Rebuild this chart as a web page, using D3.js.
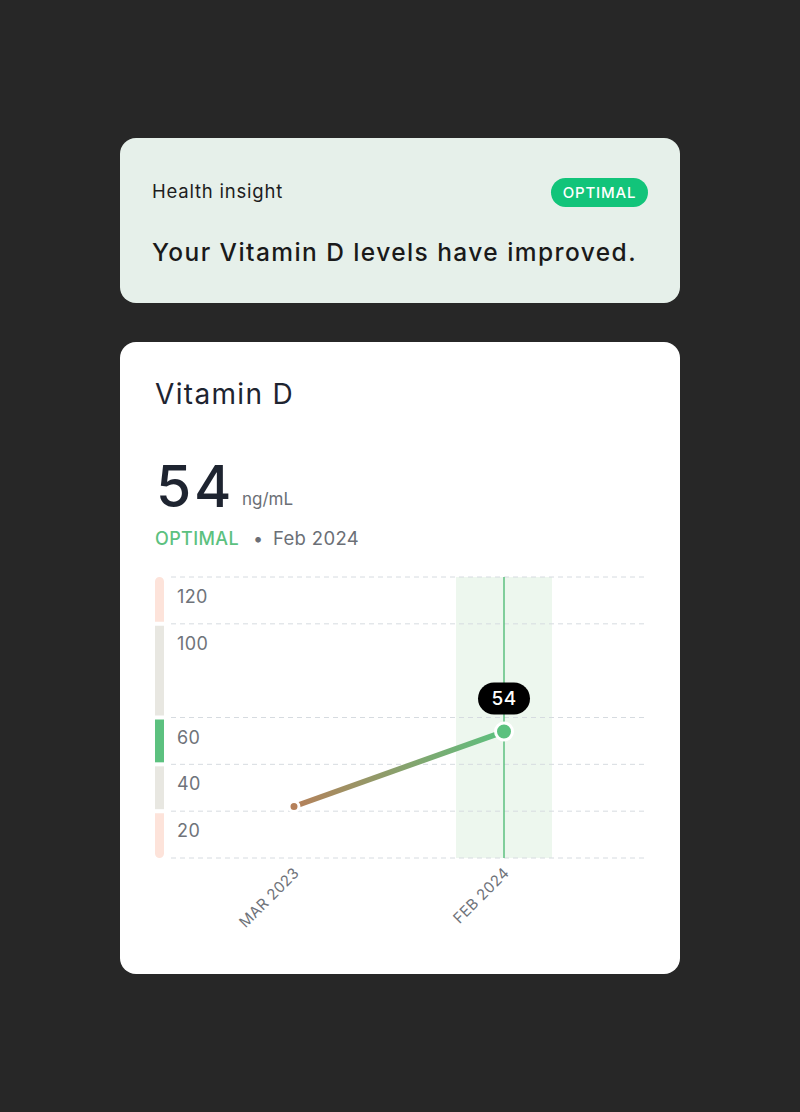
<!DOCTYPE html>
<html>
<head>
<meta charset="utf-8">
<script src="https://cdn.jsdelivr.net/npm/d3@7"></script>
<style>
  body { margin: 0; background: #272727; }
  svg { display: block; }
  text { font-family: "Inter", "Noto Sans", sans-serif; }
</style>
</head>
<body>
<svg width="800" height="1112"></svg>
<script>
// data
const dates = ["MAR 2023", "FEB 2024"];
const values = [22, 54];
const yTicks = [20, 40, 60, 100, 120];
const gridValues = [0, 20, 40, 60, 100, 120];
const bandStarts = [0, 20, 40, 60, 100];
const bandEnds = [20, 40, 60, 100, 120];
const bandKinds = ["low", "mid", "optimal", "mid", "high"];

const bandColor = { low: "#fde3da", mid: "#e8e7e1", optimal: "#5cc17f", high: "#fde3da" };

const svg = d3.select("svg");

// stretch a text to a given width with letter spacing (the original font is wider)
function fit(sel, w) {
    const n = sel.text().length;
    const natural = sel.node().getComputedTextLength();
    sel.attr("letter-spacing", Math.max(0, (w - natural) / n));
    return sel;
}

// top card
const card1 = svg.append("g");
card1.append("rect")
    .attr("x", 120).attr("y", 138)
    .attr("width", 560).attr("height", 165)
    .attr("rx", 16)
    .attr("fill", "#e6f0ea");
fit(card1.append("text")
    .attr("x", 152).attr("y", 198)
    .attr("font-size", 18.5)
    .attr("fill", "#1d1d1d")
    .text("Health insight"), 131);
card1.append("rect")
    .attr("x", 551).attr("y", 178)
    .attr("width", 97).attr("height", 29)
    .attr("rx", 14.5)
    .attr("fill", "#12c47a");
card1.append("text")
    .attr("x", 599.5).attr("y", 198)
    .attr("text-anchor", "middle")
    .attr("font-size", 15)
    .attr("font-weight", 500)
    .attr("letter-spacing", 0.8)
    .attr("fill", "#fff")
    .text("OPTIMAL");
fit(card1.append("text")
    .attr("x", 152).attr("y", 261)
    .attr("font-size", 24.5)
    .attr("font-weight", 500)
    .attr("fill", "#1a1a1a")
    .text("Your Vitamin D levels have improved."), 485);

// chart card
const card2 = svg.append("g");
card2.append("rect")
    .attr("x", 120).attr("y", 342)
    .attr("width", 560).attr("height", 632)
    .attr("rx", 16)
    .attr("fill", "#fff");
fit(card2.append("text")
    .attr("x", 155).attr("y", 404)
    .attr("font-size", 28)
    .attr("fill", "#1e2430")
    .text("Vitamin D"), 139);
fit(card2.append("text")
    .attr("x", 156).attr("y", 507)
    .attr("font-size", 57)
    .attr("font-weight", 500)
    .attr("fill", "#1e2430")
    .text(values[values.length - 1]), 78);
card2.append("text")
    .attr("x", 242).attr("y", 505)
    .attr("font-size", 17)
    .attr("fill", "#6b6f76")
    .text("ng/mL");
fit(card2.append("text")
    .attr("x", 155).attr("y", 545)
    .attr("font-size", 18)
    .attr("font-weight", 500)
    .attr("fill", "#5cc17f")
    .text("OPTIMAL"), 84);
card2.append("text")
    .attr("x", 253).attr("y", 545)
    .attr("font-size", 18)
    .attr("fill", "#6b6f76")
    .text("•");
fit(card2.append("text")
    .attr("x", 273).attr("y", 545)
    .attr("font-size", 18.5)
    .attr("fill", "#6b6f76")
    .text("Feb 2024"), 86);

// scales
const y = d3.scaleLinear().domain([0, 120]).range([858, 577]);
const x = d3.scalePoint().domain(dates).range([294, 504]);

const chart = svg.append("g");

// highlight column for latest reading
const last = dates[dates.length - 1];
chart.append("rect")
    .attr("x", x(last) - 48).attr("y", y(120))
    .attr("width", 96).attr("height", y(0) - y(120))
    .attr("fill", "#edf7ee");

// grid
chart.selectAll("line.grid")
    .data(gridValues)
    .join("line")
    .attr("class", "grid")
    .attr("x1", 171).attr("x2", 645)
    .attr("y1", d => y(d)).attr("y2", d => y(d))
    .attr("stroke", "#d6dbe0")
    .attr("stroke-width", 1)
    .attr("stroke-dasharray", "5,4");

// range bars on the left
const bands = bandStarts.map((s, i) => ({ s, e: bandEnds[i], kind: bandKinds[i] }));
chart.selectAll("path.band")
    .data(bands)
    .join("path")
    .attr("class", "band")
    .attr("fill", d => bandColor[d.kind])
    .attr("d", d => {
        const x0 = 155, w = 9, r = 4.5;
        const top = y(d.e) + (d.e === 120 ? 0 : 2);
        const bot = y(d.s) - (d.s === 0 ? 0 : 2);
        const rt = d.e === 120 ? r : 0, rb = d.s === 0 ? r : 0;
        const p = d3.path();
        p.moveTo(x0, top + rt);
        if (rt) p.arcTo(x0, top, x0 + rt, top, rt); else p.lineTo(x0, top);
        if (rt) p.arcTo(x0 + w, top, x0 + w, top + rt, rt); else p.lineTo(x0 + w, top);
        if (rb) p.arcTo(x0 + w, bot, x0 + w - rb, bot, rb); else p.lineTo(x0 + w, bot);
        if (rb) p.arcTo(x0, bot, x0, bot - rb, rb); else p.lineTo(x0, bot);
        p.closePath();
        return p.toString();
    });

// y labels
chart.selectAll("text.ytick")
    .data(yTicks)
    .join("text")
    .attr("class", "ytick")
    .attr("x", 177)
    .attr("y", d => y(d) + 26)
    .attr("font-size", 18)
    .attr("letter-spacing", 0.4)
    .attr("fill", "#6f737a")
    .text(d => d);

// vertical marker
chart.append("line")
    .attr("x1", x(last)).attr("x2", x(last))
    .attr("y1", y(120)).attr("y2", y(0))
    .attr("stroke", "#5cc17f")
    .attr("stroke-width", 1.5);

// line with gradient
const pts = dates.map((d, i) => ({ date: d, value: values[i] }));
const grad = svg.append("defs").append("linearGradient")
    .attr("id", "lineGrad")
    .attr("gradientUnits", "userSpaceOnUse")
    .attr("x1", x(dates[0])).attr("x2", x(last))
    .attr("y1", 0).attr("y2", 0);
grad.append("stop").attr("offset", "0%").attr("stop-color", "#b5805a");
grad.append("stop").attr("offset", "100%").attr("stop-color", "#5cc17f");

chart.append("path")
    .datum(pts)
    .attr("fill", "none")
    .attr("stroke", "url(#lineGrad)")
    .attr("stroke-width", 5.5)
    .attr("d", d3.line().x(d => x(d.date)).y(d => y(d.value)));

chart.selectAll("circle.pt")
    .data(pts)
    .join("circle")
    .attr("class", "pt")
    .attr("cx", d => x(d.date))
    .attr("cy", d => y(d.value))
    .attr("r", (d, i) => i === pts.length - 1 ? 8.5 : 5)
    .attr("fill", (d, i) => i === pts.length - 1 ? "#5cc17f" : "#b5805a")
    .attr("stroke", "#fff")
    .attr("stroke-width", 3);

// tooltip
const lp = pts[pts.length - 1];
chart.append("rect")
    .attr("x", x(lp.date) - 26).attr("y", y(lp.value) - 49)
    .attr("width", 52).attr("height", 32)
    .attr("rx", 16)
    .attr("fill", "#000");
chart.append("text")
    .attr("x", x(lp.date)).attr("y", y(lp.value) - 26.5)
    .attr("text-anchor", "middle")
    .attr("font-size", 19)
    .attr("font-weight", 500)
    .attr("letter-spacing", 0.5)
    .attr("fill", "#fff")
    .text(lp.value);

// x labels
chart.selectAll("text.xtick")
    .data(dates)
    .join("text")
    .attr("class", "xtick")
    .attr("text-anchor", "end")
    .attr("transform", d => `translate(${x(d) + 6},${y(0) + 16}) rotate(-45)`)
    .attr("font-size", 15)
    .attr("letter-spacing", 0.3)
    .attr("fill", "#6f737a")
    .text(d => d);
</script>
</body>
</html>
